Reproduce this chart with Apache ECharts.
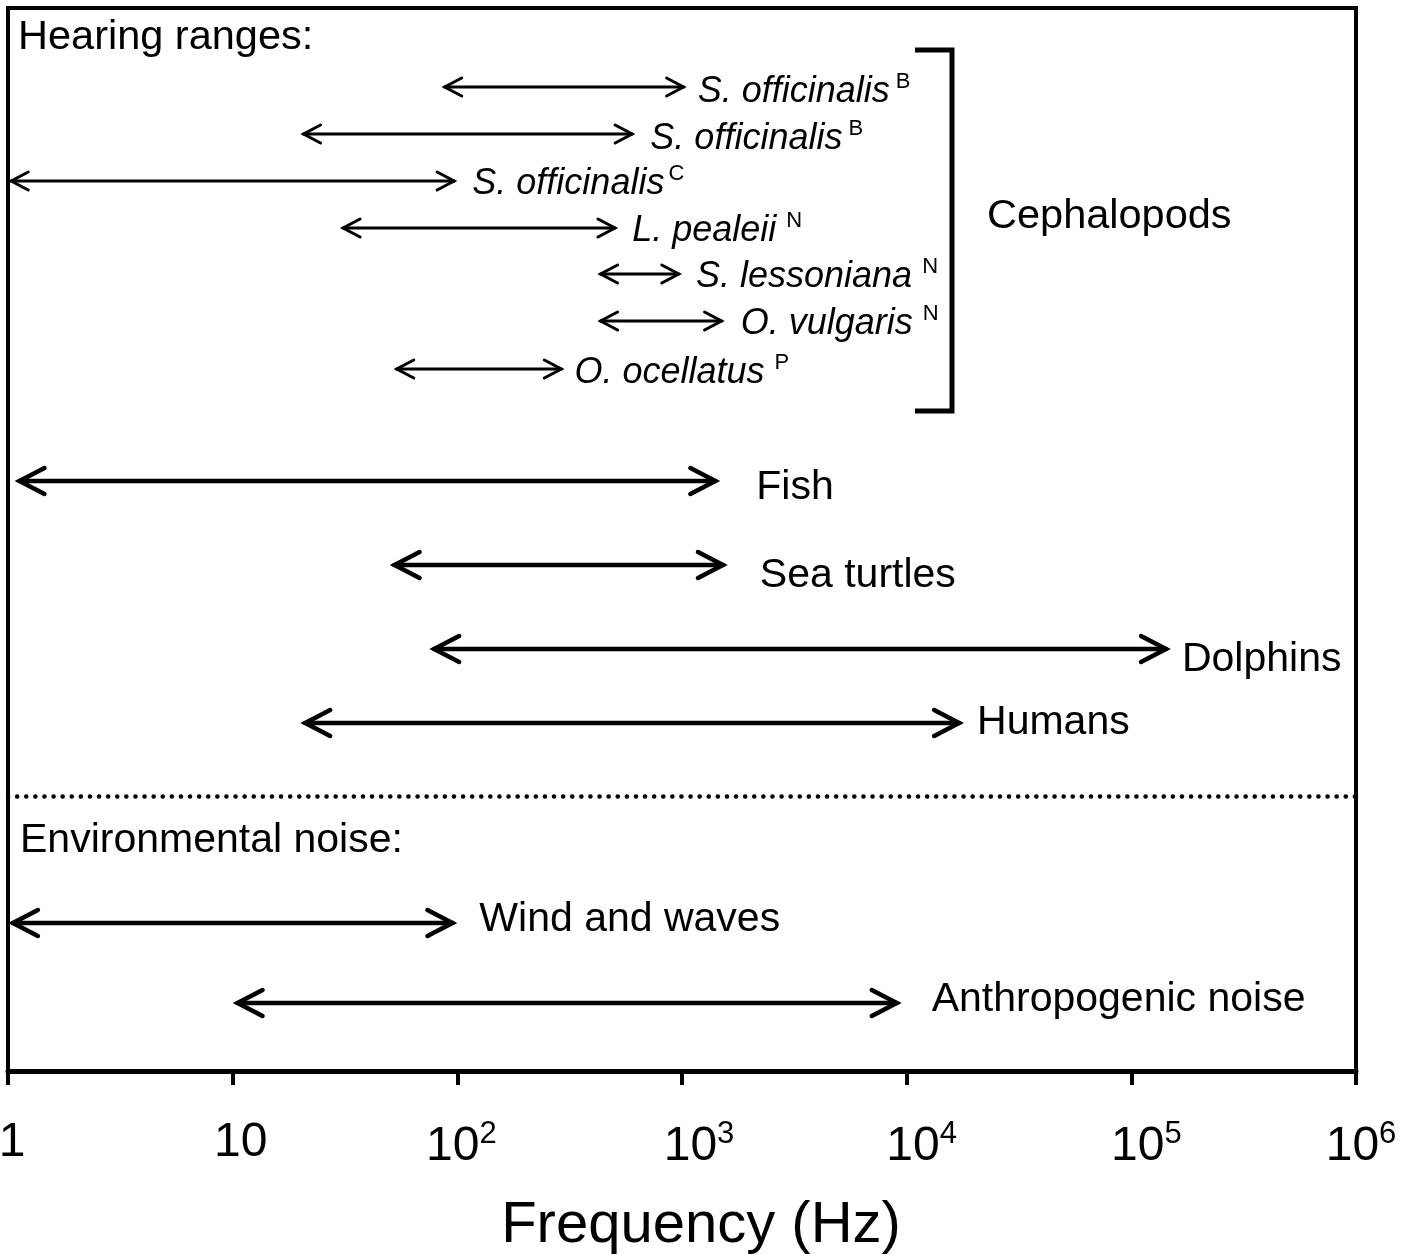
<!DOCTYPE html>
<html>
<head>
<meta charset="utf-8">
<script src="https://cdn.jsdelivr.net/npm/echarts@6/dist/echarts.min.js"></script>
<style>
  html, body { margin: 0; padding: 0; background: #fff; }
  #chart { width: 1403px; height: 1255px; }
</style>
</head>
<body>
<div id="chart"></div>
<script>
// ---------- DATA ----------
const tickValues = [1, 10, 100, 1000, 10000, 100000, 1000000];

const cephNames = ['S. officinalis', 'S. officinalis', 'S. officinalis', 'L. pealeii', 'S. lessoniana', 'O. vulgaris', 'O. ocellatus'];
const cephRefs  = ['B', 'B', 'C', 'N', 'N', 'N', 'P'];
const cephLow   = [85, 20, 1, 30, 420, 420, 52];
const cephHigh  = [1050, 620, 100, 520, 1000, 1550, 300];
const cephRow   = [79, 126, 173, 220, 266, 313, 361];

const animalNames = ['Fish', 'Sea turtles', 'Dolphins', 'Humans'];
const animalLow   = [1.07, 50, 75, 20];
const animalHigh  = [1480, 1600, 150000, 18000];
const animalRow   = [473, 557, 641, 715];

const noiseNames = ['Wind and waves', 'Anthropogenic noise'];
const noiseLow   = [1, 10];
const noiseHigh  = [100, 9500];
const noiseRow   = [915, 995];

const dividerRow = 788;

// ---------- STYLE ----------
const FONT = "'Liberation Sans', Arial, Helvetica, sans-serif";
const cephStyle   = { lw: 3, hl: 17, hh: 9, gap: [11, 15, 15, 14, 14, 16, 10], dy: [5, 5, 3, 3, 3, 3, 4], supPad: [6, 6, 4, 10, 10, 10, 10] };
const animalStyle = { lw: 4.5, hl: 25, hh: 13, gap: [36, 32, 11, 13], dy: [7, 11, 11, 0] };
const noiseStyle  = { lw: 4.5, hl: 25, hh: 13, gap: [22, 30], dy: [-3, -3] };
const tickLabelShift = [4, 8, 4, 17, 15, 15, 5];

function buildData(low, high, row) {
  return low.map((v, i) => [v, high[i], row[i]]);
}

function makeRender(st, labelFn) {
  return function (params, api) {
    const i = params.dataIndex;
    const p0 = api.coord([api.value(0), api.value(2)]);
    const p1 = api.coord([api.value(1), api.value(2)]);
    const y = p0[1];
    const inset = (st.lw / 2) / Math.sin(Math.atan(st.hh / st.hl));
    const xa = p0[0] + inset;
    const xb = p1[0] - inset;
    const lineStyle = { stroke: '#000', lineWidth: st.lw, lineCap: 'round', lineJoin: 'miter', fill: null };
    return {
      type: 'group',
      children: [
        { type: 'line', shape: { x1: xa, y1: y, x2: xb, y2: y }, style: lineStyle },
        { type: 'polyline', shape: { points: [[xa + st.hl, y - st.hh], [xa, y], [xa + st.hl, y + st.hh]] }, style: lineStyle },
        { type: 'polyline', shape: { points: [[xb - st.hl, y - st.hh], [xb, y], [xb - st.hl, y + st.hh]] }, style: lineStyle },
        { type: 'text', x: p1[0] + st.gap[i], y: y + st.dy[i], style: labelFn(i) }
      ]
    };
  };
}

const cephLabel = i => ({
  text: '{i|' + cephNames[i] + '}{s' + i + '|' + cephRefs[i] + '}',
  align: 'left', verticalAlign: 'middle', fill: '#000',
  rich: Object.assign(
    { i: { fontStyle: 'italic', fontSize: 36, fontFamily: FONT, fill: '#000' } },
    Object.fromEntries(cephStyle.supPad.map((p, k) => ['s' + k, { fontSize: 22, fontFamily: FONT, fill: '#000', padding: [0, 0, 21, p] }]))
  )
});
const plainLabel = names => i => ({
  text: names[i], font: '41px ' + FONT, fill: '#000', align: 'left', verticalAlign: 'middle'
});

const tickRich = { sup: { fontSize: 31, fontFamily: FONT, color: '#000', padding: [0, 0, 24, 0] } };
tickLabelShift.forEach((s, k) => {
  tickRich['b' + k] = { fontSize: 48, fontFamily: FONT, color: '#000', padding: [0, 0, 0, 2 * s] };
});

const chart = echarts.init(document.getElementById('chart'), null, { renderer: 'canvas' });

const option = {
  animation: false,
  backgroundColor: '#fff',
  grid: { left: 8, right: 47, top: 8, bottom: 184, show: true, borderColor: '#000', borderWidth: 4, backgroundColor: 'transparent', outerBoundsMode: 'none', containLabel: false },
  xAxis: {
    type: 'log', logBase: 10, min: 1, max: 1000000, position: 'bottom',
    name: 'Frequency (Hz)', nameLocation: 'middle', nameGap: 126,
    nameTextStyle: { fontSize: 58, fontFamily: FONT, color: '#000', padding: [0, 0, 0, 38] },
    axisLine: { onZero: false, lineStyle: { color: '#000', width: 5 } },
    axisTick: { length: 14, lineStyle: { color: '#000', width: 4 } },
    splitLine: { show: false },
    minorTick: { show: false },
    axisLabel: {
      margin: 48,
      formatter: function (v) {
        const idx = tickValues.indexOf(v);
        if (idx === 0) return '{b0|1}';
        if (idx === 1) return '{b1|10}';
        return '{b' + idx + '|10}{sup|' + Math.round(Math.log10(v)) + '}';
      },
      rich: tickRich
    }
  },
  yAxis: { type: 'value', min: 0, max: 1063, inverse: true, show: false, splitLine: { show: false } },
  graphic: [
    { type: 'text', x: 18, y: 38, style: { text: 'Hearing ranges:', font: '41.5px ' + FONT, fill: '#000', verticalAlign: 'middle' } },
    { type: 'text', x: 20, y: 841, style: { text: 'Environmental noise:', font: '41px ' + FONT, fill: '#000', verticalAlign: 'middle' } },
    { type: 'text', x: 987, y: 217, style: { text: 'Cephalopods', font: '41.5px ' + FONT, fill: '#000', verticalAlign: 'middle' } },
    { type: 'polyline', shape: { points: [[915, 50], [952, 50], [952, 411], [915, 411]] }, style: { stroke: '#000', lineWidth: 5, fill: null, lineJoin: 'miter' } }
  ],
  series: [
    {
      type: 'custom', name: 'Cephalopods', coordinateSystem: 'cartesian2d',
      renderItem: makeRender(cephStyle, cephLabel),
      data: buildData(cephLow, cephHigh, cephRow),
      markLine: {
        silent: true, symbol: ['none', 'none'], label: { show: false },
        lineStyle: { color: '#000', width: 4.5, type: [0.1, 9], cap: 'round' },
        data: [{ yAxis: dividerRow }]
      }
    },
    {
      type: 'custom', name: 'Other animals', coordinateSystem: 'cartesian2d',
      renderItem: makeRender(animalStyle, plainLabel(animalNames)),
      data: buildData(animalLow, animalHigh, animalRow)
    },
    {
      type: 'custom', name: 'Environmental noise', coordinateSystem: 'cartesian2d',
      renderItem: makeRender(noiseStyle, plainLabel(noiseNames)),
      data: buildData(noiseLow, noiseHigh, noiseRow)
    }
  ]
};
chart.setOption(option);
</script>
</body>
</html>
